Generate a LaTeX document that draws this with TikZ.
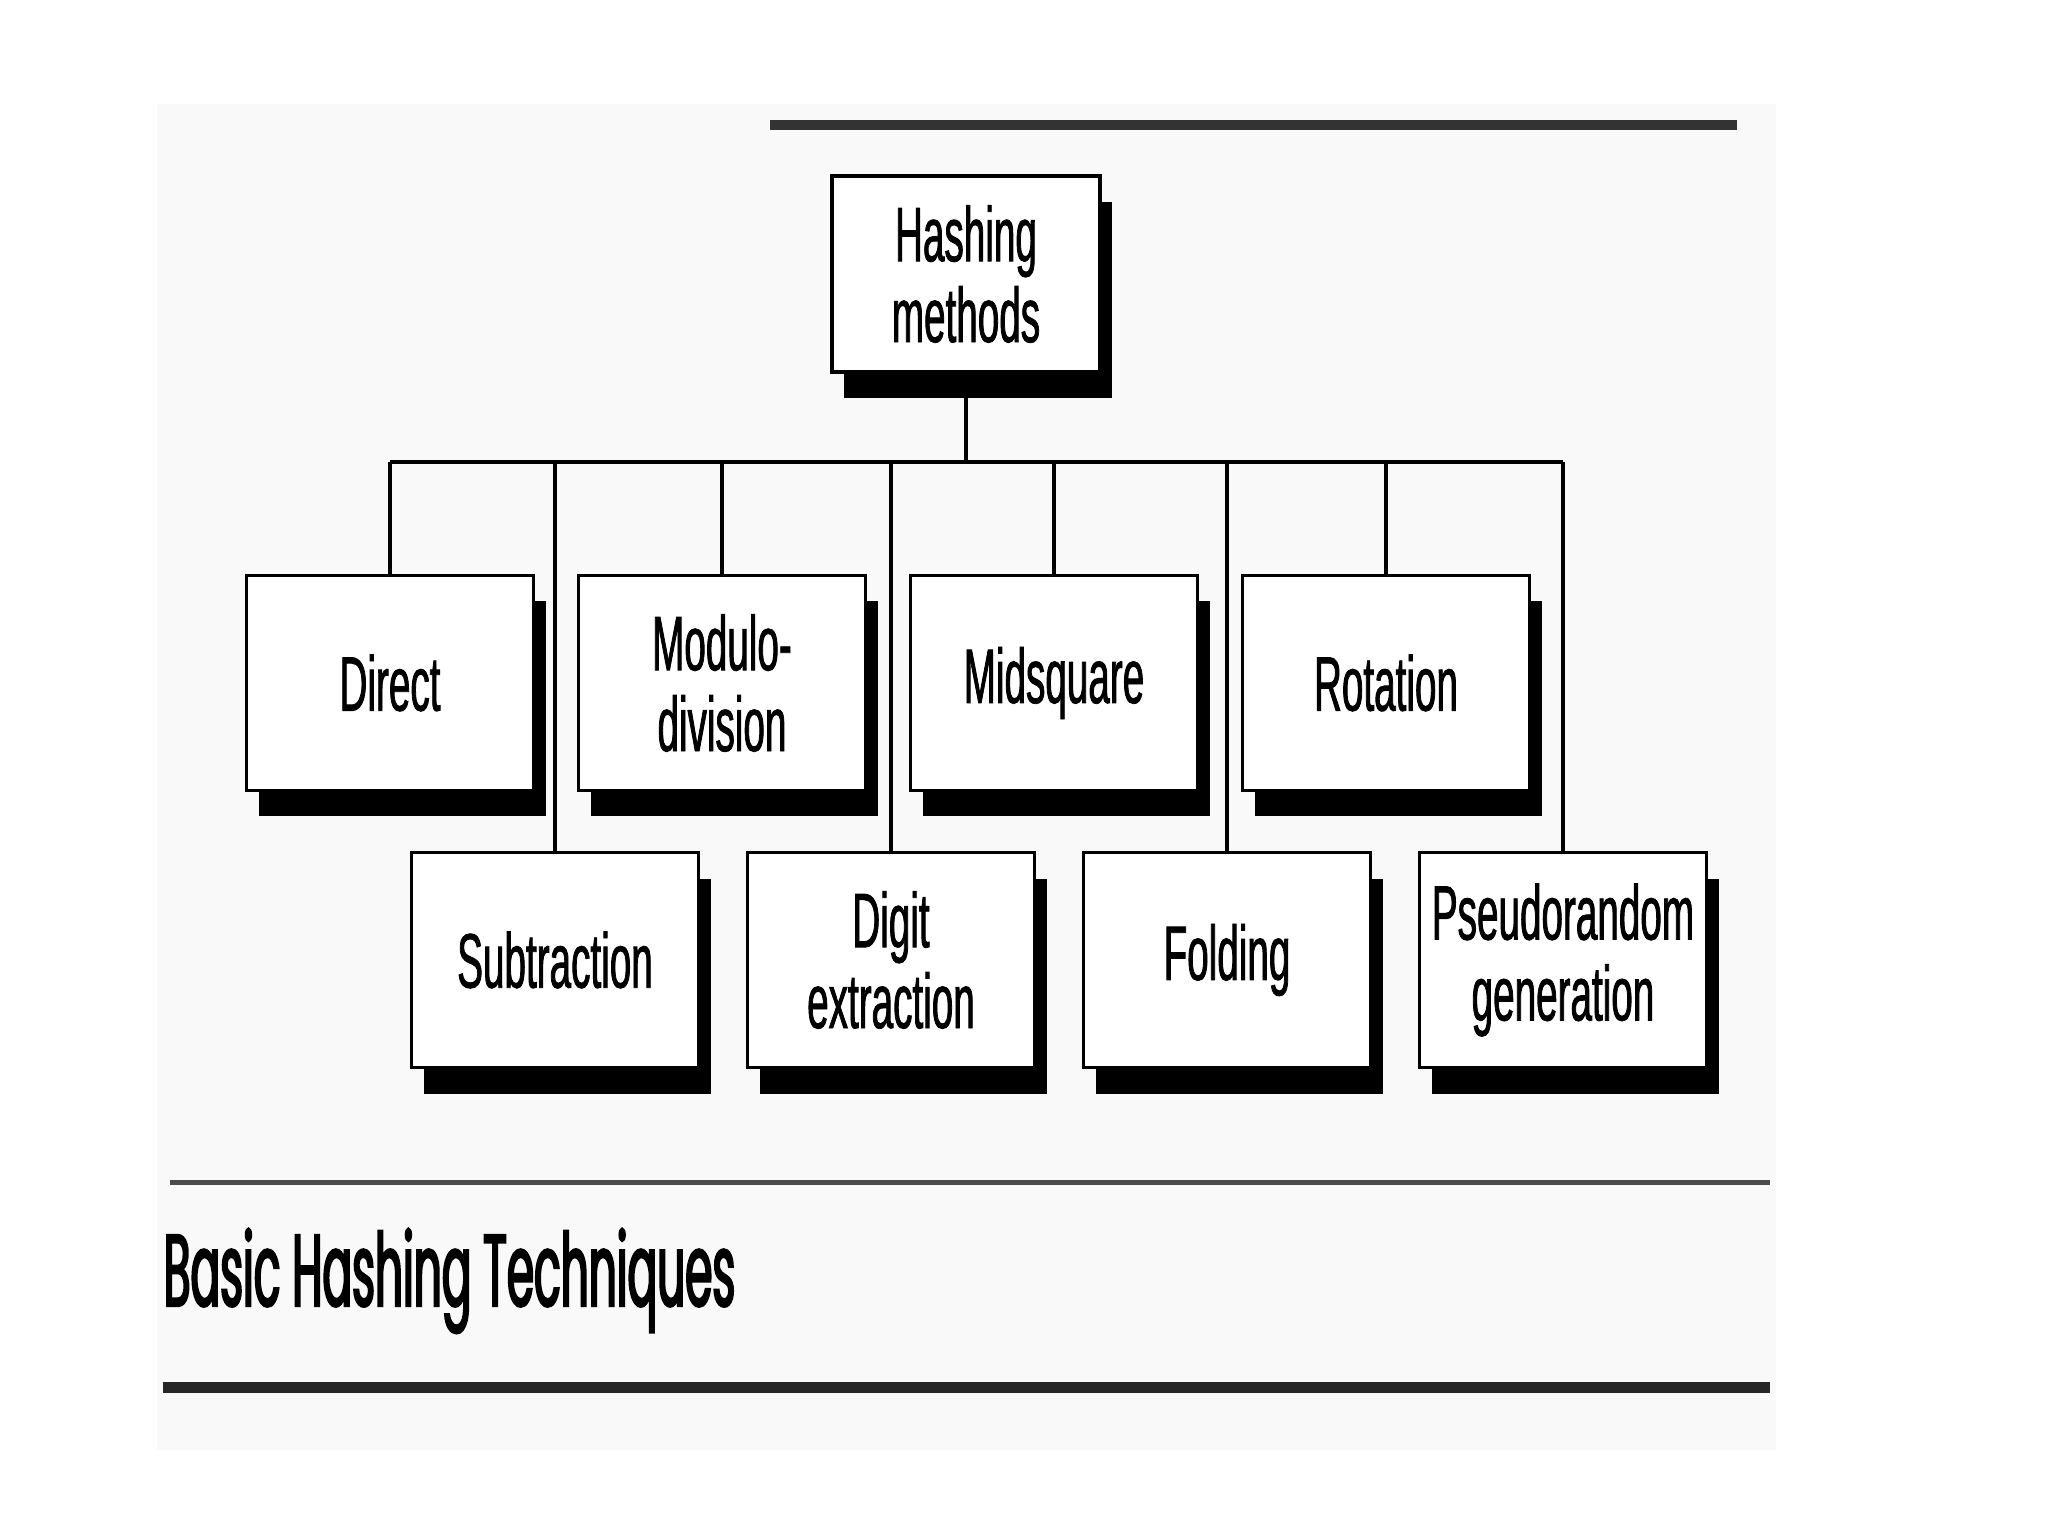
\documentclass[tikz,border=0pt]{standalone}
\usepackage{fontspec}
\usetikzlibrary{shadows}
\newfontfamily\boxfont[FakeStretch=0.50,FakeBold=1]{Liberation Sans}
\newfontfamily\capfont[FakeStretch=0.43,FakeBold=2]{Poppins}
\definecolor{pagegray}{gray}{0.975}

\begin{document}
\begin{tikzpicture}[
    methodbox/.style={draw, rectangle, line width=1.1pt, fill=white, align=center,
        minimum width=2.87cm, minimum height=2.15cm, inner sep=2pt,
        font=\boxfont\fontsize{22}{23}\selectfont,
        drop shadow={shadow xshift=0.12cm, shadow yshift=-0.26cm, fill=black, opacity=1}},
    link/.style={line width=0.9pt}
]
    \useasboundingbox (0,0) rectangle (20.48,-15.36);
    \fill[pagegray] (1.57,-1.04) rectangle (17.76,-14.50);

    % rules round the figure
    \draw[line width=0.1cm, black!80] (7.70,-1.25) -- (17.37,-1.25);
    \draw[line width=0.05cm, black!70] (1.70,-11.82) -- (17.70,-11.82);
    \draw[line width=0.11cm, black!85] (1.63,-13.87) -- (17.70,-13.87);

    \node (root) [methodbox, minimum width=2.68cm, minimum height=1.96cm] at (9.66,-2.74) {Hashing\\methods};

    \node (direct) [methodbox] at (3.90,-6.83) {Direct};
    \node (modulo) [methodbox, right of=direct, node distance=3.32cm] {Modulo-\\division};
    \node (midsquare) [methodbox, right of=modulo, node distance=3.32cm] {Midsquare};
    \node (rotation) [methodbox, right of=midsquare, node distance=3.32cm] {Rotation};

    \node (subtraction) [methodbox] at (5.55,-9.60) {Subtraction};
    \node (digit) [methodbox, right of=subtraction, node distance=3.36cm] {Digit\\extraction};
    \node (folding) [methodbox, right of=digit, node distance=3.36cm] {Folding};
    \node (pseudo) [methodbox, right of=folding, node distance=3.36cm] {Pseudorandom\\generation};

    \coordinate (bus) at (9.66,-4.62);
    \draw [link] (root.south) -- (root.south |- bus);
    \draw [link] (direct.north |- bus) -- (pseudo.north |- bus);
    \foreach \m in {direct,modulo,midsquare,rotation,subtraction,digit,folding,pseudo}
        \draw [link] (\m.north) -- (\m.north |- bus);

    \node (caption) [anchor=base west, inner sep=0pt, font=\capfont\fontsize{29}{30}\selectfont] at (1.63,-13.06) {Basic Hashing Techniques};
\end{tikzpicture}
\end{document}
